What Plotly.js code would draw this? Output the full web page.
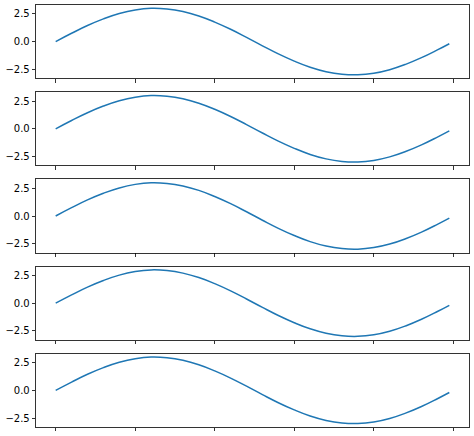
<!DOCTYPE html>
<html>
<head>
<meta charset="utf-8">
<script src="https://cdn.plot.ly/plotly-3.0.1.min.js"></script>
<style>html,body{margin:0;padding:0;background:#fff;}#chart{width:474px;height:436px;}</style>
</head>
<body>
<div id="chart"></div>
<script>
// sample indices (x) and values
const xIndex = [0, 4, 8, 12, 16, 20, 24, 28, 32, 36, 40, 44, 48, 52, 56, 60, 64, 68, 72, 76, 80, 84, 88, 92, 96, 99];
const yValues = [0.0, 0.75, 1.45, 2.05, 2.53, 2.85, 3.0, 2.94, 2.71, 2.31, 1.76, 1.11, 0.38, -0.38, -1.11, -1.76, -2.31, -2.71, -2.94, -2.99, -2.85, -2.53, -2.05, -1.45, -0.75, -0.19];
const xTicks = [0, 20, 40, 60, 80, 100];
const yTicks = [-2.5, 0.0, 2.5];
const yTickLabels = ['\u22122.5', '0.0', '2.5'];
const nPanels = 5;

const panelH = 0.1735;
const gap = (1 - nPanels * panelH) / (nPanels - 1);
const traces = [];
const layout = {
  width: 474, height: 436,
  margin: {l: 36, r: 5, t: 5, b: 9},
  paper_bgcolor: '#fff', plot_bgcolor: '#fff',
  showlegend: false,
  font: {family: 'DejaVu Sans', size: 10, color: '#000'}
};
for (let i = 0; i < nPanels; i++) {
  const s = i === 0 ? '' : String(i + 1);
  traces.push({
    x: xIndex, y: yValues, type: 'scatter', mode: 'lines',
    line: {color: '#1f77b4', width: 1.5, shape: 'spline', smoothing: 1.3, simplify: false},
    xaxis: 'x' + s, yaxis: 'y' + s, hoverinfo: 'skip'
  });
  const top = 1 - i * (panelH + gap);
  layout['xaxis' + s] = {
    domain: [0, 1], anchor: 'y' + s, range: [-4.95, 103.95],
    tickmode: 'array', tickvals: xTicks, showticklabels: false,
    ticks: 'outside', ticklen: 3.5, tickwidth: 0.8, tickcolor: '#000',
    showline: true, linecolor: '#000', linewidth: 0.8, mirror: true,
    showgrid: false, zeroline: false
  };
  layout['yaxis' + s] = {
    domain: [top - panelH, top], anchor: 'x' + s, range: [-3.3, 3.3],
    tickmode: 'array', tickvals: yTicks, ticktext: yTickLabels,
    ticks: 'outside', ticklen: 3.5, tickwidth: 0.8, tickcolor: '#000',
    showline: true, linecolor: '#000', linewidth: 0.8, mirror: true,
    showgrid: false, zeroline: false,
    tickfont: {family: 'DejaVu Sans', size: 10, color: '#000'}
  };
}
Plotly.newPlot('chart', traces, layout, {staticPlot: true, displayModeBar: false});
</script>
</body>
</html>
